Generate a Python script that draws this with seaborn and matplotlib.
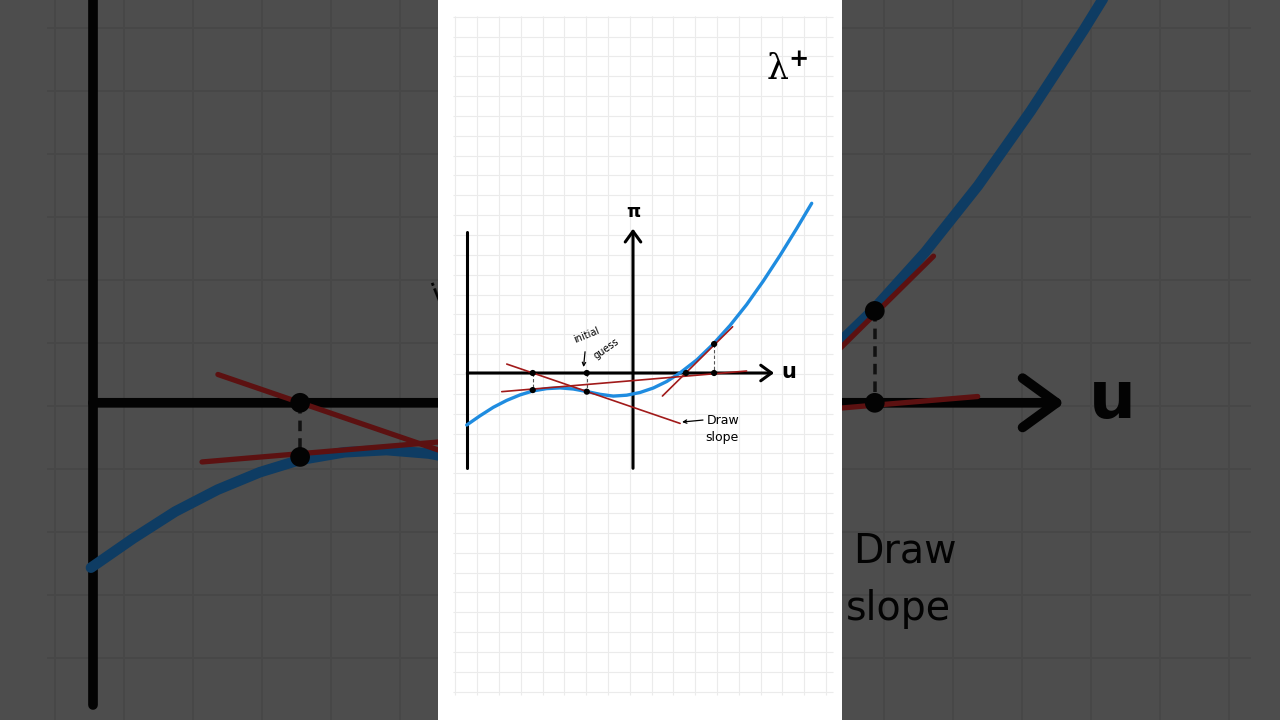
import numpy as np
import pandas as pd
import matplotlib.pyplot as plt
import seaborn as sns

# ------------------------------------------------------------
# values read off the frame, in grid units (origin = axes cross)
# ------------------------------------------------------------
curve_px = [466.7, 480.0, 493.3, 506.7, 520.0, 532.7, 546.7, 560.0, 573.3,
            586.7, 600.0, 613.3, 626.7, 640.0, 653.3, 666.7, 680.0, 696.7,
            713.3, 730.0, 746.7, 763.3, 780.0, 796.7, 811.7]
curve_py = [425.0, 415.8, 407.3, 400.4, 394.9, 391.0, 388.6, 387.9, 389.0,
            391.5, 394.3, 396.1, 395.2, 392.5, 388.0, 381.5, 372.9, 360.0,
            344.0, 325.5, 304.5, 281.0, 255.5, 228.5, 203.3]
# same readings, converted to grid units
curve_u = [round((x - 633) / 21.8, 3) for x in curve_px]
curve_n = [round((373 - y) / 19.85, 3) for y in curve_py]

dot_u = [-4.60, -4.60, -2.12, -2.12, 2.43, 3.72, 3.72]
dot_n = [0.0, -0.86, 0.0, -0.94, 0.0, 0.0, 1.46]

guide_u = [-4.60, -2.12, 3.72]
guide_top = [0.0, 0.0, 1.46]
guide_bottom = [-0.86, -0.94, 0.0]

# tangent segments (start / end)
tan_u0 = [-5.79, -6.02, 1.35]
tan_n0 = [0.45, -0.94, -1.16]
tan_u1 = [2.16, 5.21, 4.57]
tan_n1 = [-2.54, 0.10, 2.33]

# frame limits
left_bar_u = -7.60
axis_bottom = -4.80
left_bar_top = 7.12
n_tip = 7.27
u_tip = 6.47

light = dict(grid='#ebebeb', grid_lw=0.8, ink='#000000', blue='#1f8ce0',
             red='#a11a1a', dash='#555555')
dark = dict(grid='#474747', grid_lw=1.3, ink='#030303', blue='#0e3c63',
            red='#5c1111', dash='#111111')


def draw_scene(ax, s, col, top_labels=True):
    gx = np.arange(-8, 10) - 0.15
    gy = np.arange(-16, 19) - 0.05
    ax.vlines(gx, -16.22, 17.98, color=col['grid'], lw=col['grid_lw'], zorder=0)
    ax.hlines(gy, -8.26, 9.17, color=col['grid'], lw=col['grid_lw'], zorder=0)

    # axes drawn by hand
    ax.plot([left_bar_u, left_bar_u], [axis_bottom, left_bar_top],
            color=col['ink'], lw=2.2 * s, solid_capstyle='round', zorder=2)
    for start, tip in [((0, axis_bottom), (0, n_tip)),
                       ((left_bar_u, 0), (u_tip, 0))]:
        ax.annotate('', xy=tip, xytext=start,
                    arrowprops=dict(arrowstyle='->,head_length=0.55,head_width=0.4',
                                    lw=2.2 * s, color=col['ink'],
                                    shrinkA=0, shrinkB=0,
                                    mutation_scale=14 * s),
                    zorder=2)
    ax.text(7.16, 0.05, 'u', ha='center', va='center', fontsize=15 * s,
            fontweight='bold', color=col['ink'])

    curve = pd.DataFrame({'u': curve_u, 'n': curve_n})
    sns.lineplot(data=curve, x='u', y='n', sort=False, ax=ax,
                 color=col['blue'], lw=2.4 * s, zorder=3)

    for u, a, b in zip(guide_u, guide_top, guide_bottom):
        ax.plot([u, u], [a, b], color=col['dash'], lw=0.8 * s,
                ls=(0, (3, 2)), zorder=3)

    for u0, n0, u1, n1 in zip(tan_u0, tan_n0, tan_u1, tan_n1):
        ax.plot([u0, u1], [n0, n1], color=col['red'], lw=1.2 * s, zorder=4)

    dots = pd.DataFrame({'u': dot_u, 'n': dot_n})
    sns.scatterplot(data=dots, x='u', y='n', ax=ax, color=col['ink'],
                    s=20 * s * s, edgecolor='none', zorder=5)

    # handwritten notes
    ax.text(-2.11, 1.93, 'initial', rotation=22, ha='center', va='center',
            fontsize=7 * s, color=col['ink'])
    ax.text(-1.20, 1.20, 'guess', rotation=35, ha='center', va='center',
            fontsize=7 * s, color=col['ink'])
    ax.annotate('', xy=(-2.27, 0.30), xytext=(-2.20, 1.07),
                arrowprops=dict(arrowstyle='->', lw=0.9 * s, color=col['ink'],
                                shrinkA=0, shrinkB=0, mutation_scale=6 * s))
    ax.text(3.40, -2.37, 'Draw', ha='left', va='center', fontsize=9 * s,
            color=col['ink'])
    ax.text(3.30, -3.27, 'slope', ha='left', va='center', fontsize=9 * s,
            color=col['ink'])
    ax.annotate('', xy=(2.25, -2.47), xytext=(3.21, -2.37),
                arrowprops=dict(arrowstyle='->', lw=0.9 * s, color=col['ink'],
                                shrinkA=0, shrinkB=0, mutation_scale=6 * s))

    if top_labels:
        ax.text(0, 8.11, 'π', ha='center', va='center', fontsize=13 * s,
                fontweight='bold', color=col['ink'])
        ax.text(7.05, 15.25, r'$\mathrm{\lambda}^{\mathbf{+}}$', ha='center',
                va='center', fontsize=25 * s, math_fontfamily='dejavuserif',
                color=col['ink'])
    ax.set_xlabel('')
    ax.set_ylabel('')


sns.set_style('white')
fig = plt.figure(figsize=(12.8, 7.2), dpi=100)
fig.patch.set_facecolor('#4d4d4d')

u_lo, u_hi = -8.945, 9.587

# blurred, zoomed copy behind the phone frame
ax_bg = fig.add_axes([0, 0, 1, 1])
ax_bg.set_axis_off()
draw_scene(ax_bg, 3.17, dark, top_labels=False)
ax_bg.set_xlim(u_lo, u_hi)
ax_bg.set_ylim(-5.04, 6.40)

# the frame itself
ax = fig.add_axes([438 / 1280, 0, 404 / 1280, 1])
ax.set_facecolor('white')
for sp in ax.spines.values():
    sp.set_visible(False)
ax.set_xticks([])
ax.set_yticks([])
draw_scene(ax, 1.0, light)
ax.set_xlim(u_lo, u_hi)
ax.set_ylim(-17.48, 18.79)

fig.savefig('out.png', dpi=100, facecolor=fig.get_facecolor())
